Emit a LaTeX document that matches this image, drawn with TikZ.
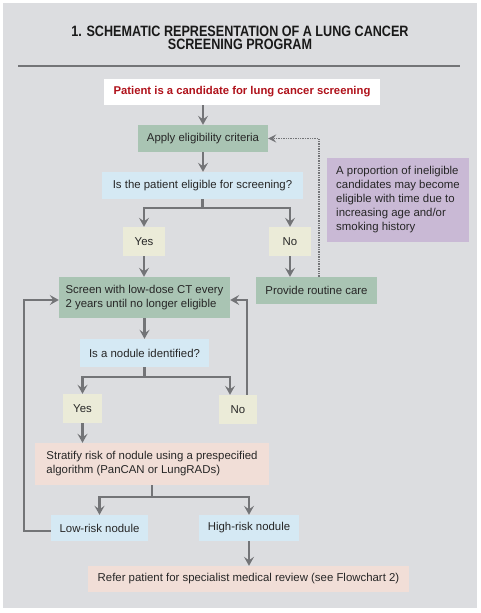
\documentclass[tikz,border=0pt]{standalone}
\usepackage{fontspec}
\setmainfont{Liberation Sans}
\newfontfamily\titlefont[FakeStretch=0.84]{Liberation Sans}
\usetikzlibrary{arrows.meta}

% 顏色
\definecolor{panelgray}{HTML}{DCDDE0}
\definecolor{linegray}{HTML}{737477}
\definecolor{boxgreen}{HTML}{A9C4B3}
\definecolor{boxblue}{HTML}{D5E9F4}
\definecolor{boxyellow}{HTML}{EBEBD8}
\definecolor{boxpink}{HTML}{F1DED7}
\definecolor{boxpurple}{HTML}{C9B9D5}
\definecolor{startred}{HTML}{B0121B}

\begin{document}
\begin{tikzpicture}[
        x=1pt, y=-1pt,            % 一個單位 = 一個像素,y 向下
        % 方框共同樣式
        box/.style={
            draw=none,
            inner sep=0pt,
            align=center,
            text=black!85,
            font=\fontsize{11.4}{14}\selectfont
        },
        % 各種顏色的方框
        greenbox/.style={box, fill=boxgreen},
        bluebox/.style={box, fill=boxblue},
        yellowbox/.style={box, fill=boxyellow, minimum width=42pt, minimum height=29pt},
        pinkbox/.style={box, fill=boxpink},
        % 多行左對齊的方框
        leftbox/.style={align=left},
        % 連線樣式
        flow/.style={
            draw=linegray,
            line width=2.2pt,
            -{Stealth[length=9pt, width=10pt, inset=3.5pt]}
        },
        plain/.style={draw=linegray, line width=2.2pt},
        dottedflow/.style={
            draw=linegray,
            line width=1.4pt,
            densely dotted,
            -{Stealth[length=8pt, width=8pt, inset=3pt]}
        },
        % 標題文字
        title/.style={
            align=center,
            inner sep=0pt,
            text=black!90,
            font=\titlefont\bfseries\fontsize{15}{13.5}\selectfont
        }
    ]

    % --- 背景與標題 ---
    \useasboundingbox (0,0) rectangle (480,613);
    \fill[panelgray] (3,3) rectangle (477,608);
    \node[title] (title) at (240,38) {1. SCHEMATIC REPRESENTATION OF A LUNG CANCER\\SCREENING PROGRAM};
    \draw[linegray, line width=2pt] (18,66) -- (460,66);

    % --- 上半部:篩檢資格 ---
    \node[box, fill=white, minimum width=276pt, minimum height=26pt,
          text=startred, font=\bfseries\fontsize{11.3}{13}\selectfont] (candidate) at (242,92)
          {Patient is a candidate for lung cancer screening};
    \node[greenbox, minimum width=130pt, minimum height=27pt] (criteria) at (203,138.5) {Apply eligibility criteria};
    \node[bluebox, minimum width=201pt, minimum height=27pt] (eligible) at (202.5,185.5) {Is the patient eligible for screening?};
    \node[yellowbox] (eligyes) at (144,241.5) {Yes};
    \node[yellowbox] (eligno) at (290,241.5) {No};
    \node[greenbox, leftbox, minimum width=171pt, minimum height=41pt] (screen) at (144.5,297.5)
          {Screen with low-dose CT every\\2 years until no longer eligible};
    \node[greenbox, minimum width=121pt, minimum height=27pt] (routine) at (316.5,290.5) {Provide routine care};
    \node[box, fill=boxpurple, leftbox, minimum width=142pt, minimum height=84pt] (note) at (398,200)
          {A proportion of ineligible\\candidates may become\\eligible with time due to\\increasing age and/or\\smoking history};

    % --- 下半部:結節處理 ---
    \node[bluebox, minimum width=129pt, minimum height=28pt] (nodule) at (144.5,353) {Is a nodule identified?};
    \node[yellowbox, minimum width=39pt] (noduleyes) at (82.5,408.5) {Yes};
    \node[yellowbox, minimum width=38pt] (noduleno) at (238,409.5) {No};
    \node[pinkbox, leftbox, minimum width=234pt, minimum height=42pt] (stratify) at (152,464)
          {Stratify risk of nodule using a prespecified\\algorithm (PanCAN or LungRADs)};
    \node[bluebox, minimum width=97pt, minimum height=26pt] (lowrisk) at (99.5,528) {Low-risk nodule};
    \node[bluebox, minimum width=100pt, minimum height=26pt] (highrisk) at (249,528) {High-risk nodule};
    \node[pinkbox, minimum width=321pt, minimum height=26pt] (refer) at (248.5,579)
          {Refer patient for specialist medical review (see Flowchart 2)};

    % --- 連線 ---
    \draw[flow] (candidate.south -| criteria.north) -- (criteria.north);
    \draw[flow] (criteria.south) -- (criteria.south |- eligible.north);
    \draw[plain] (eligible.south) -- ++(0,9) coordinate (eligsplit);
    \draw[flow] (eligsplit) -| (eligyes.north);
    \draw[flow] (eligsplit) -| (eligno.north);
    \draw[flow] (eligyes.south) -- (eligyes.south |- screen.north);
    \draw[flow] (eligno.south) -- (eligno.south |- routine.north);
    \draw[dottedflow] ([xshift=2.5pt]routine.north) |- (criteria.east);

    \draw[flow] (screen.south) -- (screen.south |- nodule.north);
    \draw[plain] (nodule.south) -- ++(0,10) coordinate (nodulesplit);
    \draw[flow] (nodulesplit) -| (noduleyes.north);
    \draw[flow] (nodulesplit) -| ([xshift=-8pt]noduleno.north);
    \draw[flow] ([xshift=9pt]noduleno.north) |- ([yshift=-2.5pt]screen.east);
    \draw[flow] (noduleyes.south) -- (noduleyes.south |- stratify.north);

    \draw[plain] (stratify.south) -- ++(0,12) coordinate (risksplit);
    \draw[flow] (risksplit) -| (lowrisk.north);
    \draw[flow] (risksplit) -| (highrisk.north);
    \draw[flow] ([yshift=-3pt]lowrisk.west) -- ++(-27,0) |- ([yshift=-2.5pt]screen.west);
    \draw[flow] (highrisk.south) -- (highrisk.south |- refer.north);
\end{tikzpicture}
\end{document}
